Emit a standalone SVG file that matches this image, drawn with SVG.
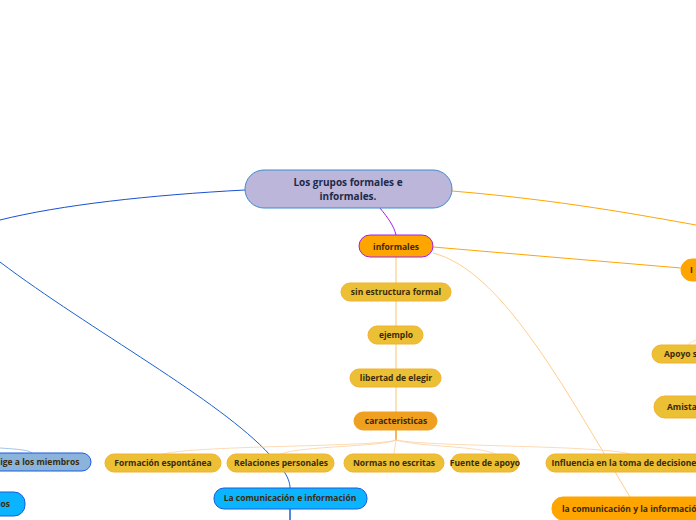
<svg xmlns="http://www.w3.org/2000/svg" width="696" height="520" viewBox="0 0 696 520">
<style>
text{font-family:"Open Sans","Noto Sans",sans-serif;font-size:8.5px;font-weight:bold;fill:#3b2a0a;text-anchor:middle}
.y{fill:#ecc035;stroke:#f5b030;stroke-width:1}
.o{fill:#ffa500;stroke:#ffa500}
.b{fill:#0bb4ff;stroke:#1a5ae0;stroke-width:1}
.c{fill:none}
</style>
<rect width="696" height="520" fill="#fff"/>
<g id="connectors" class="c">
<path d="M245,190 C150,195 60,205 0,220" stroke="#1a50d0" stroke-width="1"/>
<path d="M0,262 C90,330 220,400 270,455 C285,470 290,480 290,488" stroke="#1a60d0" stroke-width="1"/>
<path d="M290,509 L290,520" stroke="#1a60d0" stroke-width="1.5"/>
<path d="M452,191 C560,200 640,215 696,225" stroke="#ffa500" stroke-width="1"/>
<path d="M380,208 C388,218 394,226 396,235" stroke="#a020f0" stroke-width="1"/>
<path d="M433,247 L681,268" stroke="#ffa500" stroke-width="1"/>
<path d="M433,253 C500,270 560,380 630,497" stroke="#ffc070" stroke-width="0.8"/>
<path d="M396,257 L396,412" stroke="#fdd9a0" stroke-width="1.5"/>
<path d="M396,430 L396,440" stroke="#f0a020" stroke-width="1.5"/>
<g stroke="#fdd0a0" stroke-width="0.8">
<path d="M396,440 C380,447 200,445 163,454"/>
<path d="M396,440 C380,447 300,446 281,454"/>
<path d="M396,440 L394,454"/>
<path d="M396,440 C420,447 480,446 495,454"/>
<path d="M396,440 C430,447 600,445 630,454"/>
</g>
<path d="M0,448 C15,449 30,450 32,453" stroke="#8ab4dc" stroke-width="0.8"/>
<path d="M696,340 C690,342 688,345 688,345" stroke="#fdd9a0" stroke-width="0.8"/>
</g>
<g id="root"><rect x="245" y="170" width="207" height="38" rx="19" fill="#bcb6da" stroke="#3b8ad0"/>
<text x="348" y="186" style="font-size:10px;fill:#1d2a4a">Los grupos formales e</text>
<text x="348" y="200" style="font-size:10px;fill:#1d2a4a">informales.</text></g>
<g id="informales"><rect x="359" y="235" width="74" height="22" rx="11" fill="#ffa500" stroke="#a020f0"/><text x="396" y="250">informales</text></g>
<g id="sin"><rect class="y" x="341" y="283" width="110" height="18" rx="9"/><text x="396" y="295">sin estructura formal</text></g>
<g id="ejemplo"><rect class="y" x="368" y="326" width="55" height="18" rx="9"/><text x="396" y="338">ejemplo</text></g>
<g id="libertad"><rect class="y" x="350" y="369" width="91" height="18" rx="9"/><text x="396" y="381">libertad de elegir</text></g>
<g id="caracteristicas"><rect x="354" y="412" width="83" height="18" rx="9" fill="#f0a020" stroke="#f0a020"/><text x="396" y="424">caracteristicas</text></g>
<g id="formacion"><rect class="y" x="105" y="454" width="116" height="18" rx="9"/><text x="163" y="466">Formación espontánea</text></g>
<g id="relaciones"><rect class="y" x="227" y="454" width="107" height="18" rx="9"/><text x="281" y="466">Relaciones personales</text></g>
<g id="normas"><rect class="y" x="344" y="454" width="100" height="18" rx="9"/><text x="394" y="466">Normas no escritas</text></g>
<g id="fuente"><rect class="y" x="451" y="454" width="68" height="18" rx="9"/><text x="485" y="466">Fuente de apoyo</text></g>
<g id="influencia"><rect class="y" x="546" y="454" width="160" height="18" rx="9"/><text x="626" y="466">Influencia en la toma de decisiones</text></g>
<g id="comunicacion-e"><rect class="b" x="214" y="488" width="153" height="21" rx="10"/><text x="290" y="501">La comunicación e información</text></g>
<g id="comunicacion-y"><rect class="o" x="552" y="497" width="160" height="23" rx="11"/><text x="632" y="512">la comunicación y la información</text></g>
<g id="elige"><rect x="-20" y="453" width="111" height="18" rx="9" fill="#8ab4dc" stroke="#1a5ae0"/><text x="36" y="465">elige a los miembros</text></g>
<g id="los"><rect class="b" x="-20" y="492" width="45" height="24" rx="11"/><text x="4" y="507">los</text></g>
<g id="right-orange"><rect class="o" x="681" y="259" width="40" height="22" rx="11"/><text x="690" y="273" style="text-anchor:start">I</text></g>
<g id="apoyo"><rect class="y" x="652" y="345" width="60" height="18" rx="9"/><text x="664" y="357" style="text-anchor:start">Apoyo so</text></g>
<g id="amistad"><rect class="y" x="654" y="396" width="60" height="22" rx="11"/><text x="667" y="410" style="text-anchor:start">Amista</text></g>
</svg>
